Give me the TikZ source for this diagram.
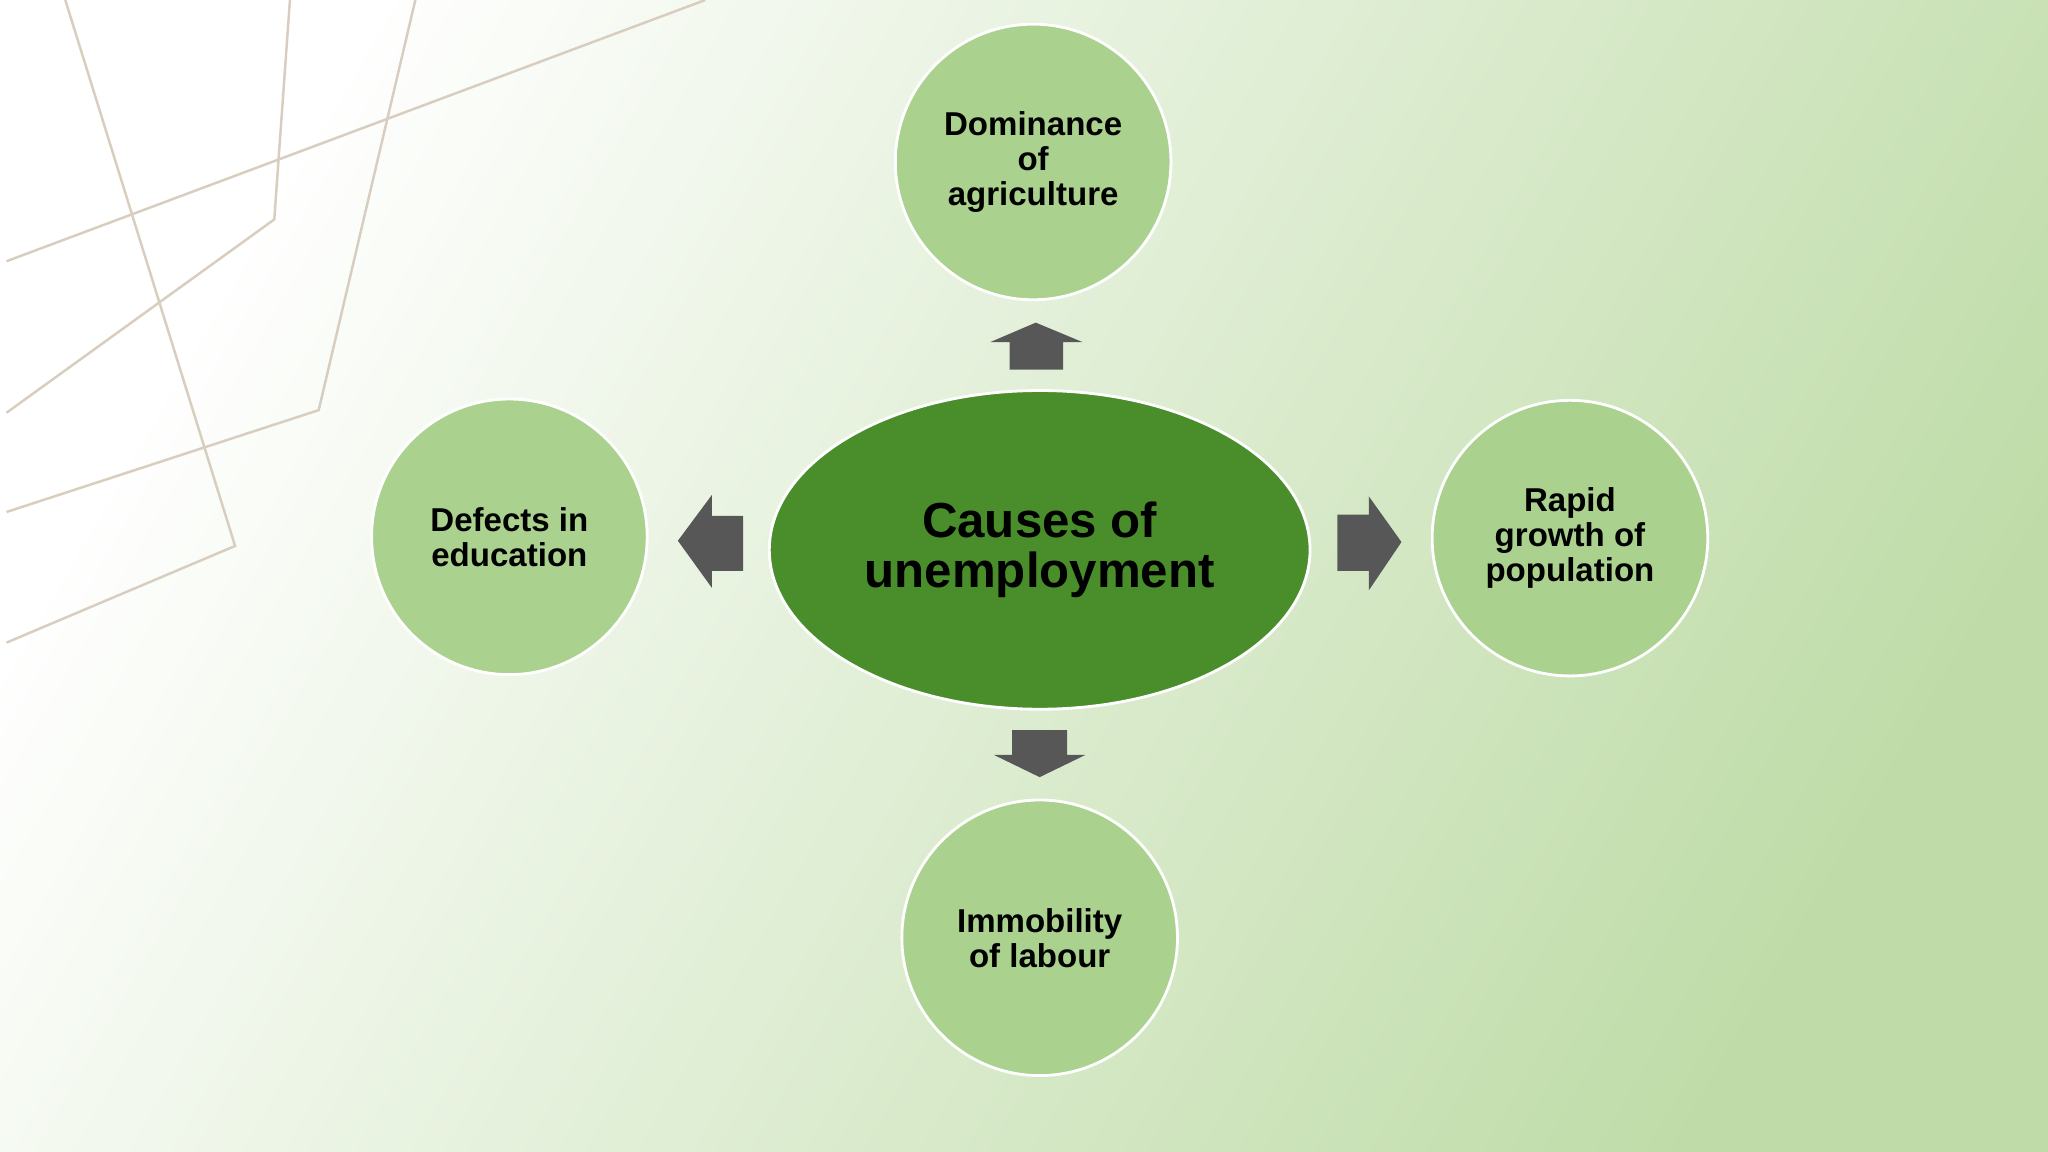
\documentclass[tikz,border=0pt]{standalone}
\usepackage{fontspec}
\setmainfont{Liberation Sans}
\usetikzlibrary{shapes.geometric}
\definecolor{bgg}{HTML}{BFDCA8}
\definecolor{ctr}{HTML}{4A8D2B}
\definecolor{cir}{HTML}{AAD18D}
\definecolor{arr}{HTML}{575757}
\definecolor{deco}{HTML}{D8CDBE}
\begin{document}
\begin{tikzpicture}[x=0.01306cm,y=-0.01306cm,
  cause/.style={circle,minimum size=211*0.01306cm,fill=cir,draw=white,line width=0.8pt,align=center,font=\fontsize{9.4}{10}\selectfont\bfseries,inner sep=0pt},
  blk/.style={fill=arr},
  deco/.style={draw=deco,line width=0.7pt}]
\useasboundingbox (0,0) rectangle (1568,882);
\shade[left color=white,right color=bgg,shading angle=60] (0,0) rectangle (1568,882);
\draw[deco] (50,0)--(180,418)--(5,492);
\draw[deco] (222,0)--(210,168)--(5,316);
\draw[deco] (318,0)--(244,314)--(5,392);
\draw[deco] (540,0)--(5,200);
\node[ellipse,minimum width=414*0.01306cm,minimum height=244*0.01306cm,fill=ctr,draw=white,line width=0.8pt,align=center,font=\fontsize{14}{14.4}\selectfont\bfseries,inner sep=0pt] (c) at (796,421) {Causes of\\unemployment};
\node[cause] (t) at (791,124) {Dominance\\of\\agriculture};
\node[cause] (l) at (390,411) {Defects in\\education};
\node[cause] (r) at (1202,412) {Rapid\\growth of\\population};
\node[cause] (b) at (796,718) {Immobility\\of labour};
\fill[blk] (773,283)--(773,262)--(758,262)--(793,247)--(829,262)--(814,262)--(814,283)--cycle;
\fill[blk] (775,559)--(775,578)--(761,578)--(796,595)--(831,578)--(817,578)--(817,559)--cycle;
\fill[blk] (569,395)--(545,395)--(545,379)--(519,414)--(545,450)--(545,437)--(569,437)--cycle;
\fill[blk] (1024,394)--(1048,394)--(1048,380)--(1073,415)--(1048,452)--(1048,437)--(1024,437)--cycle;
\end{tikzpicture}
\end{document}
